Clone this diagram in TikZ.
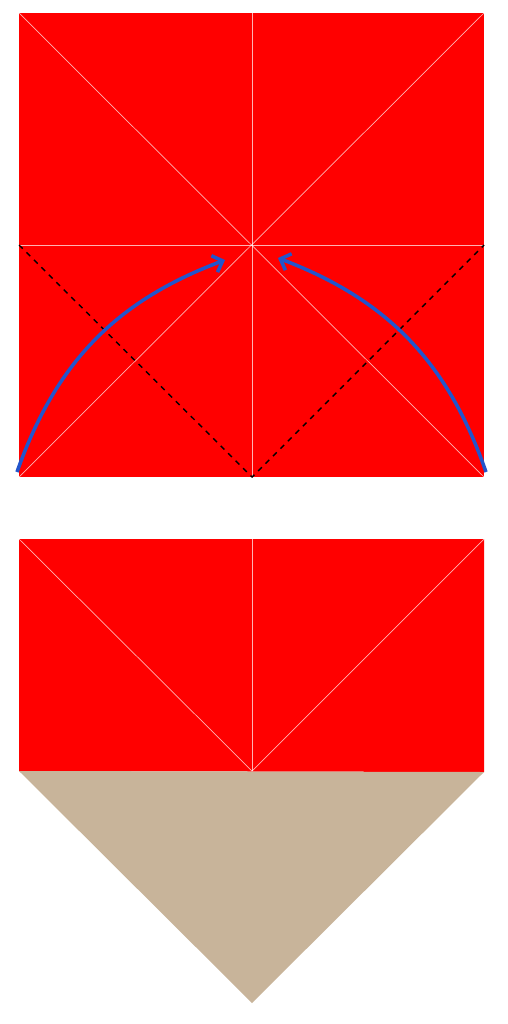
\documentclass[tikz,border=0pt]{standalone}
\usepackage{tikz}
\usetikzlibrary{arrows.meta}
\definecolor{paperred}{RGB}{255,0,0}
\definecolor{papertan}{RGB}{200,180,154}
\definecolor{arrowblue}{RGB}{34,85,204}
\begin{document}
\begin{tikzpicture}[x=0.02cm,y=-0.02cm]
\useasboundingbox (0,0) rectangle (507,1024);
\coordinate (S1_TL) at (19, 13);
\coordinate (S1_TR) at (484, 13);
\coordinate (S1_BL) at (19, 477);
\coordinate (S1_BR) at (484, 477);
\coordinate (S1_T) at (252, 13);
\coordinate (S1_B) at (252, 477);
\coordinate (S1_L) at (19, 245);
\coordinate (S1_R) at (484, 245);
\coordinate (S2_TL) at (19, 539);
\coordinate (S2_TR) at (484, 539);
\coordinate (S2_BL) at (19, 771);
\coordinate (S2_BR) at (484, 772);
\coordinate (S2_T) at (252, 539);
\coordinate (S2_B) at (252, 771);
\coordinate (S2_P) at (252, 1003);
\coordinate (A1_S) at (17, 472);
\coordinate (A1_E) at (225, 260);
\coordinate (A2_S) at (486, 472);
\coordinate (A2_E) at (278, 258);


\fill[paperred] (S1_TL) -- (S1_TR) -- (S1_BR) -- (S1_BL) -- cycle;
\fill[paperred] (S2_TL) -- (S2_TR) -- (S2_BR) -- (S2_BL) -- cycle;
\fill[papertan] (S2_BL) -- (S2_BR) -- (S2_P) -- cycle;


\tikzset{CreaseStyle/.style = {white, opacity=0.7, line width=0.4pt} }

\draw[CreaseStyle] (S1_TL) -- (S1_BR);
\draw[CreaseStyle] (S1_TR) -- (S1_BL);
\draw[CreaseStyle] (S1_T) -- (S1_B);
\draw[CreaseStyle] (S1_L) -- (S1_R);
\draw[CreaseStyle] (S2_T) -- (S2_B);
\draw[CreaseStyle] (S2_TL) -- (S2_B);
\draw[CreaseStyle] (S2_TR) -- (S2_B);


\tikzset{ValleyStyle/.style = {black, dashed, line width=0.8pt} }

\draw[ValleyStyle] (S1_L) -- (S1_B) -- (S1_R);


\tikzset{ArrowStyle/.style = {
 arrowblue,
 line width=2pt,
 -{Straight Barb[length=5pt,width=10pt]} } }

\draw[ArrowStyle] (A1_S) to[bend left=25] (A1_E);
\draw[ArrowStyle] (A2_S) to[bend right=25] (A2_E);

\end{tikzpicture}
\end{document}
